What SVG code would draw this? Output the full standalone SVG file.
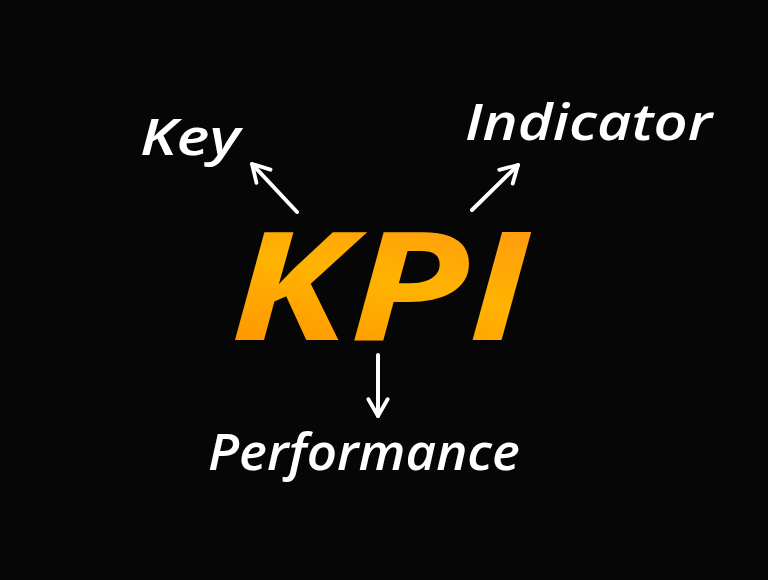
<svg xmlns="http://www.w3.org/2000/svg" width="768" height="580" viewBox="0 0 768 580">
<defs>
<linearGradient id="g" x1="0" y1="1" x2="0.3" y2="0">
<stop offset="0" stop-color="#ff8a00"/><stop offset="0.6" stop-color="#ffb300"/><stop offset="1" stop-color="#ff9a10"/>
</linearGradient>
<marker id="ah" viewBox="0 0 10 10" refX="8" refY="5" markerWidth="6" markerHeight="6" orient="auto"><path d="M1,1 L8,5 L1,9" fill="none" stroke="#fff" stroke-width="1.6" stroke-linecap="round" stroke-linejoin="round"/></marker>
<style>
.w{fill:#fff;font-family:"Open Sans",sans-serif;font-style:italic;font-weight:600}
.c{stroke:#fff;stroke-width:4;fill:none;stroke-linecap:round}
</style>
</defs>
<rect width="768" height="580" fill="#060606"/>
<g id="kpi"><text x="380" y="340" text-anchor="middle" font-family="'Open Sans',sans-serif" font-style="italic" font-weight="700" font-size="150" fill="url(#g)" textLength="300" lengthAdjust="spacingAndGlyphs">KPI</text></g>
<g id="key"><text class="w" x="140" y="155" font-size="50" textLength="100" lengthAdjust="spacingAndGlyphs">Key</text></g>
<g id="indicator"><text class="w" x="465" y="140" font-size="50" textLength="247" lengthAdjust="spacingAndGlyphs">Indicator</text></g>
<g id="performance"><text class="w" x="208" y="470" font-size="50" textLength="312" lengthAdjust="spacingAndGlyphs">Performance</text></g>
<g id="connectors">
<line class="c" x1="297" y1="212" x2="252" y2="164" marker-end="url(#ah)"/>
<line class="c" x1="472" y1="210" x2="518" y2="165" marker-end="url(#ah)"/>
<line class="c" x1="378" y1="355" x2="378" y2="416" marker-end="url(#ah)"/>
</g>
</svg>
